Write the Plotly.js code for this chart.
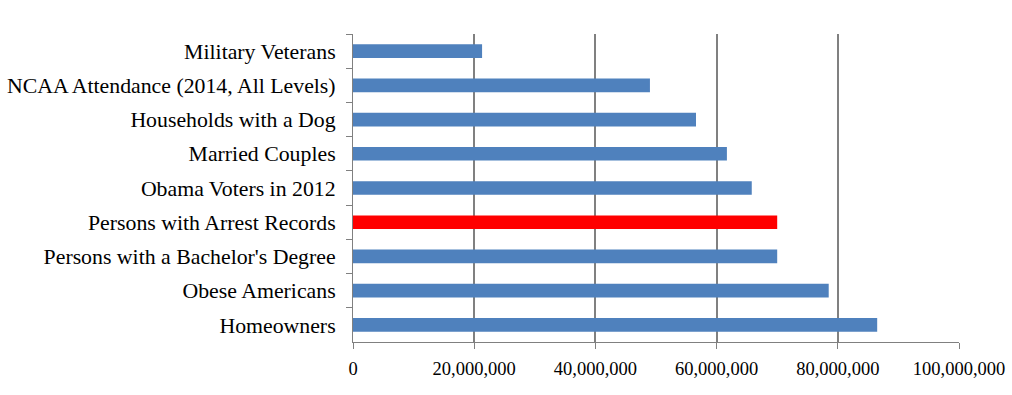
<!DOCTYPE html>
<html>
<head>
<meta charset="utf-8">
<script src="https://cdn.plot.ly/plotly-3.0.1.min.js"></script>
<style>html,body{margin:0;padding:0;background:#fff;}#chart{width:1012px;height:395px;}</style>
</head>
<body>
<div id="chart"></div>
<script>
const categories = [
  "Military Veterans",
  "NCAA Attendance (2014, All Levels)",
  "Households with a Dog",
  "Married Couples",
  "Obama Voters in 2012",
  "Persons with Arrest Records",
  "Persons with a Bachelor's Degree",
  "Obese Americans",
  "Homeowners"
];
const counts = [21300000, 49000000, 56600000, 61700000, 65800000, 70000000, 70000000, 78500000, 86500000];
const highlighted = "Persons with Arrest Records";
const xTickValues = [0, 20000000, 40000000, 60000000, 80000000, 100000000];
const xTickLabels = ["0", "20,000,000", "40,000,000", "60,000,000", "80,000,000", "100,000,000"];

const colors = categories.map(c => c === highlighted ? "#FF0000" : "#4F81BD");

Plotly.newPlot("chart", [{
  type: "bar",
  orientation: "h",
  y: categories,
  x: counts,
  marker: {color: colors},
  hoverinfo: "none"
}], {
  width: 1012, height: 395,
  margin: {l: 353, r: 53, t: 34, b: 53},
  paper_bgcolor: "#fff", plot_bgcolor: "#fff",
  bargap: 0.6,
  showlegend: false,
  font: {family: "Liberation Serif, Times New Roman, serif", color: "#000"},
  xaxis: {
    range: [0, 100000000],
    tickvals: xTickValues, ticktext: xTickLabels,
    showgrid: true, gridcolor: "#808080", gridwidth: 2,
    zeroline: false,
    showline: true, linecolor: "#808080", linewidth: 1,
    ticks: "outside", ticklen: 6, tickcolor: "#808080", tickwidth: 1,
    ticklabelstandoff: 4,
    tickfont: {size: 18.5, family: "Liberation Serif", color: "#000"},
    fixedrange: true
  },
  yaxis: {
    autorange: "reversed",
    type: "category",
    showgrid: false, zeroline: false,
    showline: true, linecolor: "#808080", linewidth: 1,
    ticks: "outside", tickson: "boundaries", ticklen: 6, tickcolor: "#808080", tickwidth: 1,
    ticklabelstandoff: 12,
    tickfont: {size: 21.8, family: "Liberation Serif", color: "#000"},
    fixedrange: true
  }
}, {displayModeBar: false, staticPlot: true});
</script>
</body>
</html>
